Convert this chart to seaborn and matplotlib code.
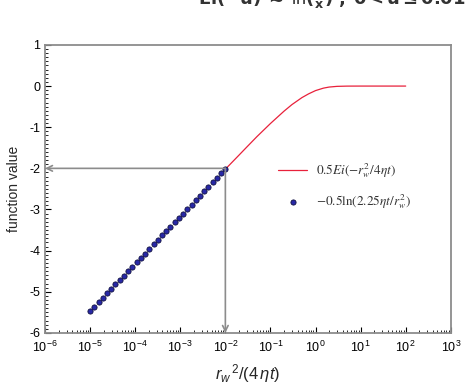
import matplotlib
matplotlib.use("Agg")
import matplotlib.pyplot as plt
import matplotlib.ticker as mticker
import pandas as pd
import seaborn as sns

# red curve: 0.5 Ei(-x)
ei_x = [0.01, 0.02, 0.03, 0.05, 0.1, 0.2, 0.3, 0.5, 0.7, 1.0, 1.5, 2.0, 3.0, 5.0, 10.0, 100.0]
ei_y = [-2.02, -1.68, -1.48, -1.23, -0.91, -0.61, -0.45, -0.28, -0.19, -0.11, -0.05, -0.024, -0.007, -0.001, 0.0, 0.0]

# blue dots: -0.5 ln(2.25 eta t / r_w^2)
ln_x = [1.00e-05, 1.24e-05, 1.54e-05, 1.91e-05, 2.37e-05, 2.94e-05, 3.65e-05, 4.53e-05,
        5.62e-05, 6.98e-05, 8.66e-05, 1.07e-04, 1.33e-04, 1.66e-04, 2.05e-04, 2.55e-04,
        3.16e-04, 3.93e-04, 4.87e-04, 6.04e-04, 7.50e-04, 9.31e-04, 1.15e-03, 1.43e-03,
        1.78e-03, 2.21e-03, 2.74e-03, 3.40e-03, 4.22e-03, 5.23e-03, 6.49e-03, 8.06e-03, 1.00e-02]
ln_y = [-5.47, -5.36, -5.25, -5.15, -5.04, -4.93, -4.82, -4.71, -4.61, -4.50, -4.39, -4.28,
        -4.17, -4.07, -3.96, -3.85, -3.74, -3.63, -3.53, -3.42, -3.31, -3.20, -3.10, -2.99,
        -2.88, -2.77, -2.66, -2.56, -2.45, -2.34, -2.23, -2.12, -2.02]

x_ticks = [1e-6, 1e-5, 1e-4, 1e-3, 1e-2, 1e-1, 1e0, 1e1, 1e2, 1e3]
y_ticks = [1, 0, -1, -2, -3, -4, -5, -6]

sns.set_style("white")
plt.rcParams['font.family'] = ['Liberation Sans', 'DejaVu Sans']
plt.rcParams['axes.unicode_minus'] = False
plt.rcParams['mathtext.fontset'] = 'custom'
plt.rcParams['mathtext.rm'] = 'Liberation Sans'
plt.rcParams['mathtext.it'] = 'Liberation Sans:italic'

df_ei = pd.DataFrame({'x': ei_x, 'y': ei_y})
df_ln = pd.DataFrame({'x': ln_x, 'y': ln_y})

fig = plt.figure(figsize=(4.74, 3.84), dpi=100)
ax = fig.add_axes([0.095, 0.133, 0.856, 0.750])

sns.lineplot(data=df_ei, x='x', y='y', ax=ax, color='#e8213b', lw=0.9,
             label=r'$0.5Ei(-r_w^2/4\eta t)$')
sns.scatterplot(data=df_ln, x='x', y='y', ax=ax, color='#2828a6', edgecolor='#101040',
                linewidth=0.6, s=14, zorder=3, label=r'$-0.5\ln(2.25\eta t/r_w^2)$')

# guide arrows at x = 0.01
ax.annotate('', xy=(1e-6, -2.0), xytext=(1e-2, -2.0),
            arrowprops=dict(arrowstyle='->', color='#8c8c8c', lw=1.2, shrinkA=0, shrinkB=0))
ax.annotate('', xy=(1e-2, -6.0), xytext=(1e-2, -2.0),
            arrowprops=dict(arrowstyle='->', color='#8c8c8c', lw=1.2, shrinkA=0, shrinkB=0))

ax.set_xscale('log')
ax.set_xlim(1e-6, 1e3)
ax.set_ylim(-6, 1)
ax.set_xticks(x_ticks)
ax.set_yticks(y_ticks)
ax.xaxis.set_major_formatter(mticker.LogFormatterMathtext())
ax.xaxis.set_minor_locator(mticker.LogLocator(base=10, subs=range(2, 10), numticks=20))
ax.xaxis.set_minor_formatter(mticker.NullFormatter())
ax.yaxis.set_minor_locator(mticker.MultipleLocator(0.1))
ax.tick_params(which='both', direction='in', bottom=True, left=True, top=False, right=False,
               labelsize=9, colors='black')
ax.tick_params(which='major', length=4, width=0.8)
ax.tick_params(which='minor', length=2, width=0.6)
ax.tick_params(axis='x', pad=5)
for sp in ax.spines.values():
    sp.set_color('#8c8c8c')
    sp.set_linewidth(1.3)

ax.set_xlabel(r'$r_w{}^{\,2}/(4\,\eta t)$', fontsize=12, labelpad=5)
ax.set_ylabel('function value', fontsize=10, labelpad=6)

leg = ax.legend(loc='center left', bbox_to_anchor=(0.545, 0.51), frameon=False,
                fontsize=9.5, handlelength=2.2, handletextpad=0.7, labelspacing=0.9)
for t in leg.get_texts():
    t.set_math_fontfamily('stix')
    t.set_color('#333333')

# formula cut off at the top of the page
fig.text(0.70, 1.005, r'$\mathbf{Ei(-u)\ \approx\ \ln(\frac{\gamma}{x})\ ,\ 0<u\leq 0.01}$',
         ha='center', va='center', fontsize=13, color='#333333')

fig.savefig('out.png', dpi=100)
